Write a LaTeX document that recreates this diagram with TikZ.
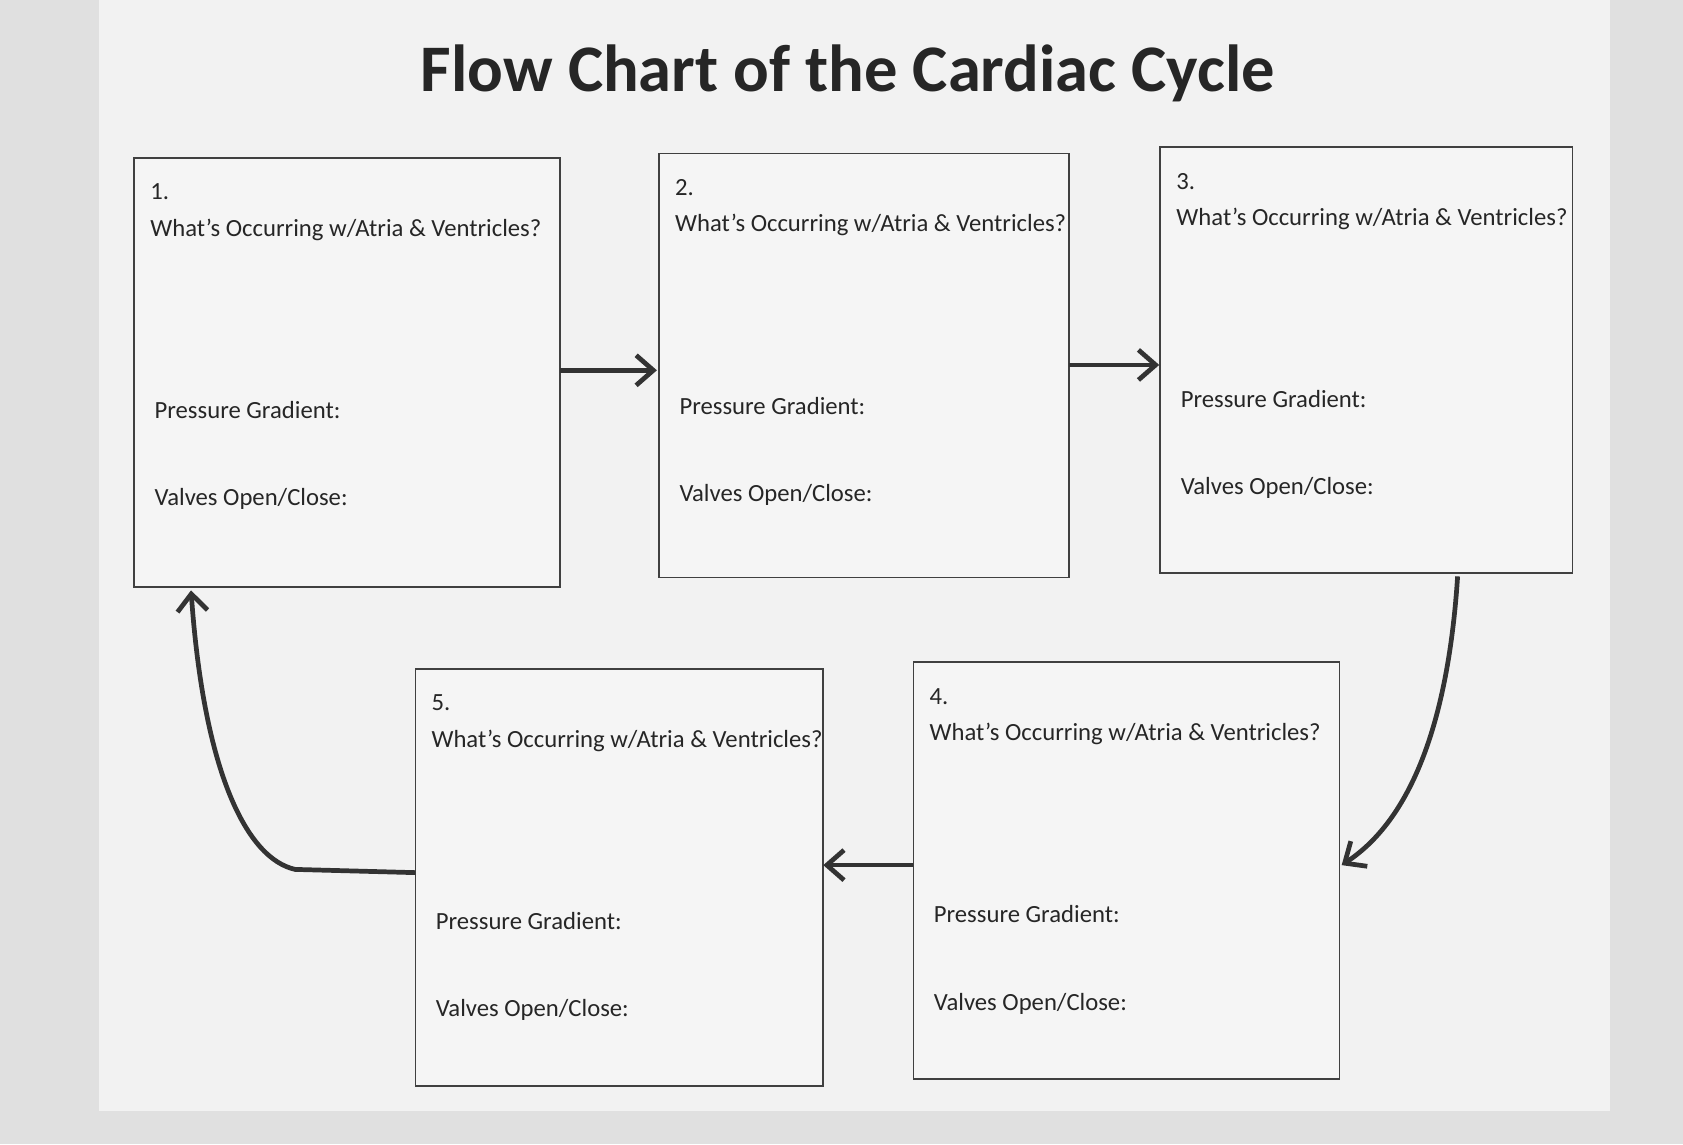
\documentclass[tikz,border=0pt]{standalone}
\usepackage{fontspec}
\setmainfont{Carlito}
\usetikzlibrary{arrows.meta}
\begin{document}
\begin{tikzpicture}[x=0.5pt,y=-0.5pt,
  box/.style={draw=black!75,line width=0.8pt,fill=white!92!gray},
  lbl/.style={anchor=west,font=\fontsize{11.5}{13}\selectfont,text=black!85},
  arr/.style={draw=black!80,line width=2.2pt,-{Straight Barb[length=8pt,width=14pt]}}]
\useasboundingbox (0,0) rectangle (1568,1066);
\fill[black!12] (0,0) rectangle (1568,1066);
\fill[white!90!gray] (92,0) rectangle (1500,1035);
\node[font=\fontsize{31}{36}\selectfont\bfseries,text=black!85] (title) at (790,68) {Flow Chart of the Cardiac Cycle};
\newcommand{\cbox}[6]{%
 \draw[box] (#2,#3) rectangle (#4,#5);
 \coordinate (#1nw) at (#2,#3);
 \node[lbl] (#1n) at (#2+8,#3+32) {#6.};
 \node[lbl] (#1q) at (#2+8,#3+67) {What’s Occurring w/Atria \& Ventricles?};
 \node[lbl] (#1p) at (#2+12,#3+235) {Pressure Gradient:};
 \node[lbl] (#1v) at (#2+12,#3+318) {Valves Open/Close:};}
\cbox{a}{125}{147}{522}{547}{1}
\cbox{b}{614}{143}{996}{538}{2}
\cbox{c}{1081}{137}{1465}{534}{3}
\cbox{d}{851}{617}{1248}{1005}{4}
\cbox{e}{387}{623}{767}{1012}{5}
\coordinate (a1) at (522,345); \coordinate (b1) at (612,345);
\coordinate (b2) at (996,340); \coordinate (c2) at (1080,340);
\coordinate (c3) at (1358,537); \coordinate (d3) at (1250,806);
\coordinate (d4) at (851,806); \coordinate (e4) at (767,806);
\coordinate (e5) at (387,813); \coordinate (a5) at (178,550);
\draw[arr] (a1) -- (b1);
\draw[arr] (b2) -- (c2);
\draw[arr] (c3) .. controls (1350,660) and (1320,760) .. (d3);
\draw[arr] (d4) -- (e4);
\draw[arr] (e5) -- (275,810) .. controls (230,800) and (190,720) .. (a5);
\end{tikzpicture}
\end{document}
